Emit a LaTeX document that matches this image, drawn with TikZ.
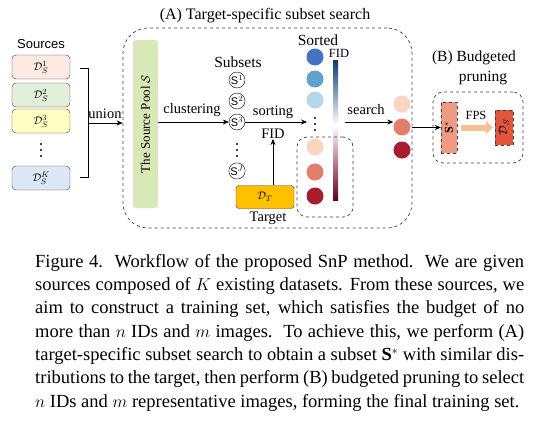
\documentclass[tikz,border=0pt]{standalone}
\usepackage{fontspec}
\setmainfont{Liberation Serif}
\newfontfamily\srcfont{Liberation Sans}
\usetikzlibrary{arrows.meta,shapes.geometric}
\definecolor{srcA}{HTML}{FCE9E1}
\definecolor{srcB}{HTML}{E2EFD9}
\definecolor{srcC}{HTML}{FFFFC2}
\definecolor{srcK}{HTML}{DCE8F5}
\definecolor{poolgreen}{HTML}{D8E8B6}
\definecolor{gold}{HTML}{FFC000}
\definecolor{cA}{HTML}{4472C4}
\definecolor{cB}{HTML}{5FA2CE}
\definecolor{cC}{HTML}{B6D7EA}
\definecolor{cD}{HTML}{FBD5C2}
\definecolor{cE}{HTML}{E27F6A}
\definecolor{cF}{HTML}{A91B2F}
\definecolor{navy}{HTML}{0A3A70}
\definecolor{midblue}{HTML}{5A9FCB}
\definecolor{midred}{HTML}{E0806A}
\definecolor{darkred}{HTML}{67001F}
\definecolor{sstar}{HTML}{EE9A85}
\definecolor{dsred}{HTML}{E0553B}
\definecolor{fps}{HTML}{F8BF8F}
\definecolor{edge}{HTML}{404040}
\tikzset{
  srcbox/.style={draw=edge, rounded corners=4pt, minimum width=58pt, minimum height=24pt, inner sep=0pt, font=\fontsize{11}{12}\selectfont},
  lbl/.style={font=\fontsize{14.5}{16}\selectfont, inner sep=0pt},
  subcirc/.style={circle, draw=black, minimum size=16pt, inner sep=0pt, font=\srcfont\fontsize{11}{12}\selectfont},
  dot/.style={circle, minimum size=17pt, inner sep=0pt},
  dashbox/.style={draw=edge, dashed, line width=0.7pt},
  arr/.style={-{Stealth[length=6pt,width=5pt]}, line width=0.6pt},
  tinydot/.style={fill=black, radius=1.1pt}
}
\newcommand{\threedots}[1]{\fill[black] ($(#1)+(0,-6)$) circle[radius=1.1pt] (#1) circle[radius=1.1pt] ($(#1)+(0,6)$) circle[radius=1.1pt];}
\usetikzlibrary{calc}
\begin{document}
\begin{tikzpicture}[x=1pt,y=-1pt]
\useasboundingbox[fill=white] (0,0) rectangle (537,423);

% Sources
\node[font=\srcfont\fontsize{13}{15}\selectfont, inner sep=0pt] (srctitle) at (41,44) {Sources};
\node[srcbox, fill=srcA] (s1box) at (41,67) {$\mathcal{D}_{S}^{1}$};
\node[srcbox, fill=srcB] (s2box) at (41,95) {$\mathcal{D}_{S}^{2}$};
\node[srcbox, fill=srcC] (s3box) at (41,121) {$\mathcal{D}_{S}^{3}$};
\coordinate (srcdots) at (41,150);
\threedots{srcdots}
\node[srcbox, fill=srcK] (sKbox) at (41,178) {$\mathcal{D}_{S}^{K}$};

% bracket
\coordinate (brtop) at (80,68);
\coordinate (brbot) at (80,177);
\coordinate (brmid) at (88,123);
\draw[line width=0.6pt] (brtop) -- ++(8,0) |- (brbot);

% Box A
\node[dashbox, rounded corners=25pt, minimum width=289pt, minimum height=200pt] (boxA) at (267.5,128) {};
\node[font=\fontsize{16}{18}\selectfont, inner sep=0pt] (titleA) at (265,16) {(A) Target-specific subset search};
\draw[arr] (brmid) -- (brmid -| boxA.west);
\node[lbl] (unionlbl) at (105,114) {union};

% Source pool
\node[fill=poolgreen, rounded corners=3pt, minimum width=25pt, minimum height=168pt, inner sep=0pt] (pool) at (145.5,124) {};
\node[rotate=90, font=\fontsize{13}{15}\selectfont, inner sep=0pt] (pooltxt) at (pool.center) {The Source Pool $\mathcal{S}$};

% subsets
\node[font=\fontsize{15.5}{17}\selectfont, inner sep=0pt] (subsetslbl) at (238,62) {Subsets};
\node[subcirc] (c1) at (237,80) {S$^{1}$};
\node[subcirc] (c2) at (237,101) {S$^{2}$};
\node[subcirc] (c3) at (237,122) {S$^{3}$};
\coordinate (cdots) at (237,150);
\threedots{cdots}
\node[subcirc] (cJ) at (237,171) {S$^{J}$};
\draw[arr] (pool.east |- c3) -- (c3.west);
\node[lbl] (clustlbl) at (192,110) {clustering};

% sorted column
\node[font=\fontsize{15.5}{17}\selectfont, inner sep=0pt] (sortedlbl) at (318,40) {Sorted};
\node[dot, fill=cA] (d1) at (315,57) {};
\node[dot, fill=cB] (d2) at (315,79) {};
\node[dot, fill=cC] (d3) at (315,100) {};
\coordinate (ddots) at (315,124);
\threedots{ddots}
\node[dot, fill=cD] (d4) at (315,147) {};
\node[dot, fill=cE] (d5) at (315,172) {};
\node[dot, fill=cF] (d6) at (315,196) {};

\draw[arr] (c3.east) -- ([xshift=-8pt]c3 -| ddots);
\node[lbl] (sortlbl) at (273,112) {sorting};

% colorbar
\shade[top color=navy, middle color=midblue, bottom color=white] (333,60) rectangle (338,125);
\shade[top color=white, middle color=midred, bottom color=darkred] (333,125) rectangle (338,200);
\node[font=\fontsize{12.5}{14}\selectfont, inner sep=0pt] (cbar) at (339,53) {FID};

% inner dashed box
\node[dashbox, rounded corners=10pt, minimum width=56pt, minimum height=80pt] (innerbox) at (325,177) {};

% target
\node[draw=edge, fill=gold, rounded corners=3pt, minimum width=58pt, minimum height=23pt, inner sep=0pt, font=\fontsize{11}{12}\selectfont] (target) at (265,197) {$\mathcal{D}_{T}$};
\node[lbl] (targetlbl) at (268,218) {Target};
\node[lbl] (fidlbl) at (273,134) {FID};
\draw[arr] (fidlbl.south |- target.north) -- (fidlbl.south);

% search
\node[dot, fill=cD] (r1) at (402,104) {};
\node[dot, fill=cE] (r2) at (402,127) {};
\node[dot, fill=cF] (r3) at (402,150) {};
\coordinate (searchstart) at (345,122);
\draw[arr] (searchstart) -- (r1.west |- searchstart);
\node[lbl] (searchlbl) at (366,110) {search};

% Box B
\node[font=\fontsize{15.5}{17}\selectfont, inner sep=0pt] (titleB1) at (474,58) {(B) Budgeted};
\node[font=\fontsize{15.5}{17}\selectfont, inner sep=0pt] (titleB2) at (483,78) {pruning};
\node[dashbox, rounded corners=10pt, minimum width=90pt, minimum height=71pt] (boxB) at (478,127.5) {};
\node[draw=edge, dashed, fill=sstar, minimum width=16pt, minimum height=51pt, inner sep=0pt] (sst) at (449,127.5) {};
\node[rotate=90, font=\fontsize{12}{13}\selectfont, inner sep=0pt] (ssttxt) at (sst.center) {$\mathbf{S}^{*}$};
\node[draw=edge, dashed, fill=dsred, minimum width=18pt, minimum height=35pt, inner sep=0pt] (ds) at (504,127.5) {};
\node[rotate=90, font=\fontsize{12}{13}\selectfont, inner sep=0pt] (dstxt) at (ds.center) {$\mathcal{D}_{S}$};
\draw[arr] (boxA.east |- sst) -- (sst.west);
\draw[fps, line width=6pt, -{Triangle[length=7pt,width=13pt]}] ([xshift=4pt]sst.east) -- ([xshift=-2pt]ds.west);
\node[font=\fontsize{12.5}{14}\selectfont, inner sep=0pt] (fpslbl) at (476,115) {FPS};

% caption
\node[anchor=north west, text width=489pt, align=justify, inner sep=0pt, font=\fontsize{18.5}{23.3}\selectfont] (caption) at (35,254) {\parfillskip=0pt
Figure 4.\ \ Workflow of the proposed SnP method.\ \ We are given\linebreak
sources composed of $K$ existing datasets. From these sources, we\linebreak
aim to construct a training set, which satisfies the budget of no\linebreak
more than $n$ IDs and $m$ images.\ \ To achieve this, we perform (A)\linebreak
target-specific subset search to obtain a subset $\mathbf{S}^{*}$ with similar dis-\linebreak
tributions to the target, then perform (B) budgeted pruning to select\linebreak
$n$ IDs and $m$ representative images, forming the final training set.};
\end{tikzpicture}
\end{document}
